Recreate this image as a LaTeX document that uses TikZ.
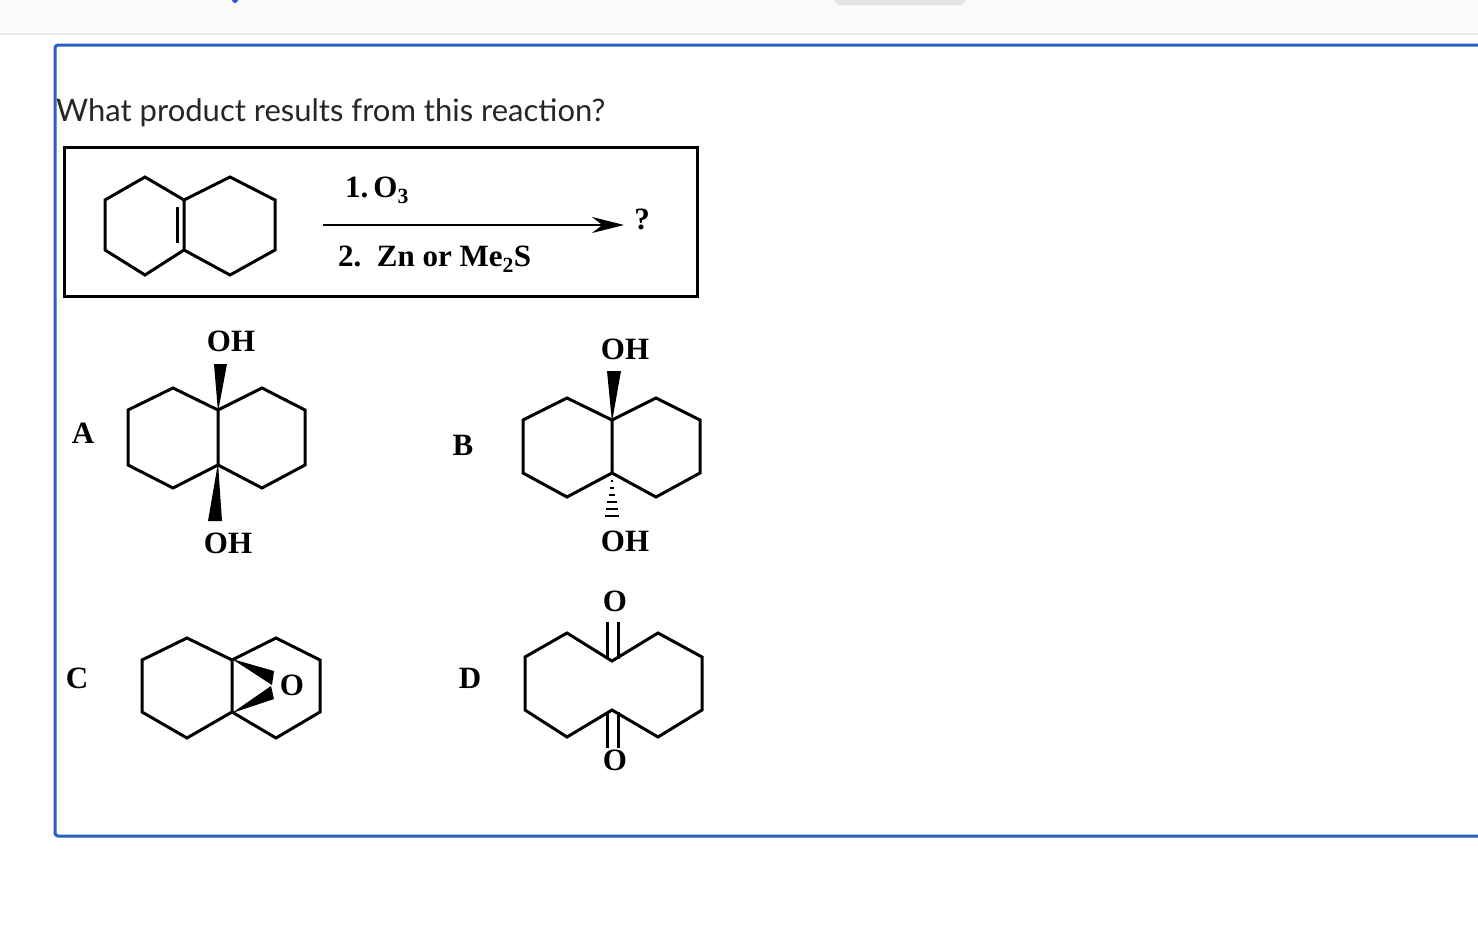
\documentclass[tikz,border=0pt]{standalone}
\usepackage{fontspec}
\setmainfont{Liberation Serif}
\newfontfamily\qfont{Lato}
\usetikzlibrary{arrows.meta}
\definecolor{frameblue}{HTML}{2A5FC4}
\begin{document}
\begin{tikzpicture}[x=1pt,y=-1pt,
  bond/.style={line width=3pt,line join=miter},
  chem/.style={font=\fontsize{31}{33}\selectfont\bfseries,inner sep=0pt},
  wedge/.style={fill=black,draw=none}]
\useasboundingbox (0,0) rectangle (1478,926);
\fill[white] (0,0) rectangle (1478,926);
\fill[black!2] (0,0) rectangle (1478,33);
\draw[black!8,line width=1.5pt] (0,34) -- (1478,34);
\fill[black!11,rounded corners=4pt] (835,-6) rectangle (965,5);
\fill[frameblue] (235,0) circle (3);
\draw[frameblue,line width=3pt,rounded corners=3pt] (1490,45) -- (55,45) -- (55,836) -- (1490,836);
\node[font=\qfont\fontsize{31}{34}\selectfont,text=black!85,anchor=west,inner sep=0pt] (q) at (56,113) {What product results from this reaction?};
% reaction box
\draw[line width=3pt] (64,147) rectangle (697,296);
\draw[bond] (145,177) -- (105,200) -- (105,250) -- (145,275) -- (184,250) -- (184,200) -- cycle;
\draw[bond] (184,200) -- (230,177) -- (275,200) -- (275,250) -- (230,275) -- (184,250);
\draw[bond] (177,207) -- (177,243);
\node[chem] (r1) at (377,190) {1.\,O\textsubscript{3}};
\node[chem,anchor=west] (r2) at (338,259) {2.\ \ Zn or Me\textsubscript{2}S};
\coordinate (a1) at (323,225);
\node[chem] (qm) at (642,219) {?};
\draw[line width=2.8pt,-{Stealth[length=32pt,width=16pt]}] (a1) -- (624,225);
% A
\node[chem] (la) at (83,433) {A};
\draw[bond] (173,388) -- (128,410) -- (128,465) -- (173,488) -- (218,465) -- (218,410) -- cycle;
\draw[bond] (218,410) -- (262,388) -- (305,410) -- (305,465) -- (262,488) -- (218,465);
\fill[wedge] (218,412) -- (214,364) -- (227,364) -- cycle;
\fill[wedge] (218,463) -- (208,521) -- (222,521) -- cycle;
\node[chem] (oha1) at (231,341) {OH};
\node[chem] (oha2) at (228,543) {OH};
% B
\node[chem] (lb) at (463,445) {B};
\draw[bond] (567,398) -- (523,420) -- (523,473) -- (567,497) -- (612,473) -- (612,420) -- cycle;
\draw[bond] (612,420) -- (656,398) -- (700,420) -- (700,473) -- (656,497) -- (612,473);
\fill[wedge] (612,422) -- (607,371) -- (621,371) -- cycle;
\foreach \i in {0,...,5} {\draw[line width=2.4pt] ({612-1-\i*1.2},{481+\i*7}) -- ({612+1+\i*1.2},{481+\i*7});}
\node[chem] (ohb1) at (625,349) {OH};
\node[chem] (ohb2) at (625,541) {OH};
% C
\node[chem] (lc) at (77,678) {C};
\draw[bond] (187,638) -- (142,660) -- (142,712) -- (187,738) -- (232,712) -- (232,660) -- cycle;
\draw[bond] (232,660) -- (276,638) -- (320,660) -- (320,712) -- (276,738) -- (232,712);
\fill[wedge] (232,659) -- (274,671) -- (272,685) -- cycle;
\fill[wedge] (232,713) -- (274,699) -- (271,686) -- cycle;
\node[chem] (oc) at (292,685) {O};
% D
\node[chem] (ld) at (470,678) {D};
\draw[bond] (525,657) -- (567,633) -- (612,661) -- (658,633) -- (702,657) -- (702,710) -- (658,737) -- (612,710) -- (567,737) -- (525,710) -- cycle;
\draw[bond] (607,622) -- (607,659);
\draw[bond] (618,622) -- (618,659);
\draw[bond] (607,712) -- (607,748);
\draw[bond] (618,712) -- (618,748);
\node[chem] (od1) at (615,601) {O};
\node[chem] (od2) at (615,760) {O};
\end{tikzpicture}
\end{document}
